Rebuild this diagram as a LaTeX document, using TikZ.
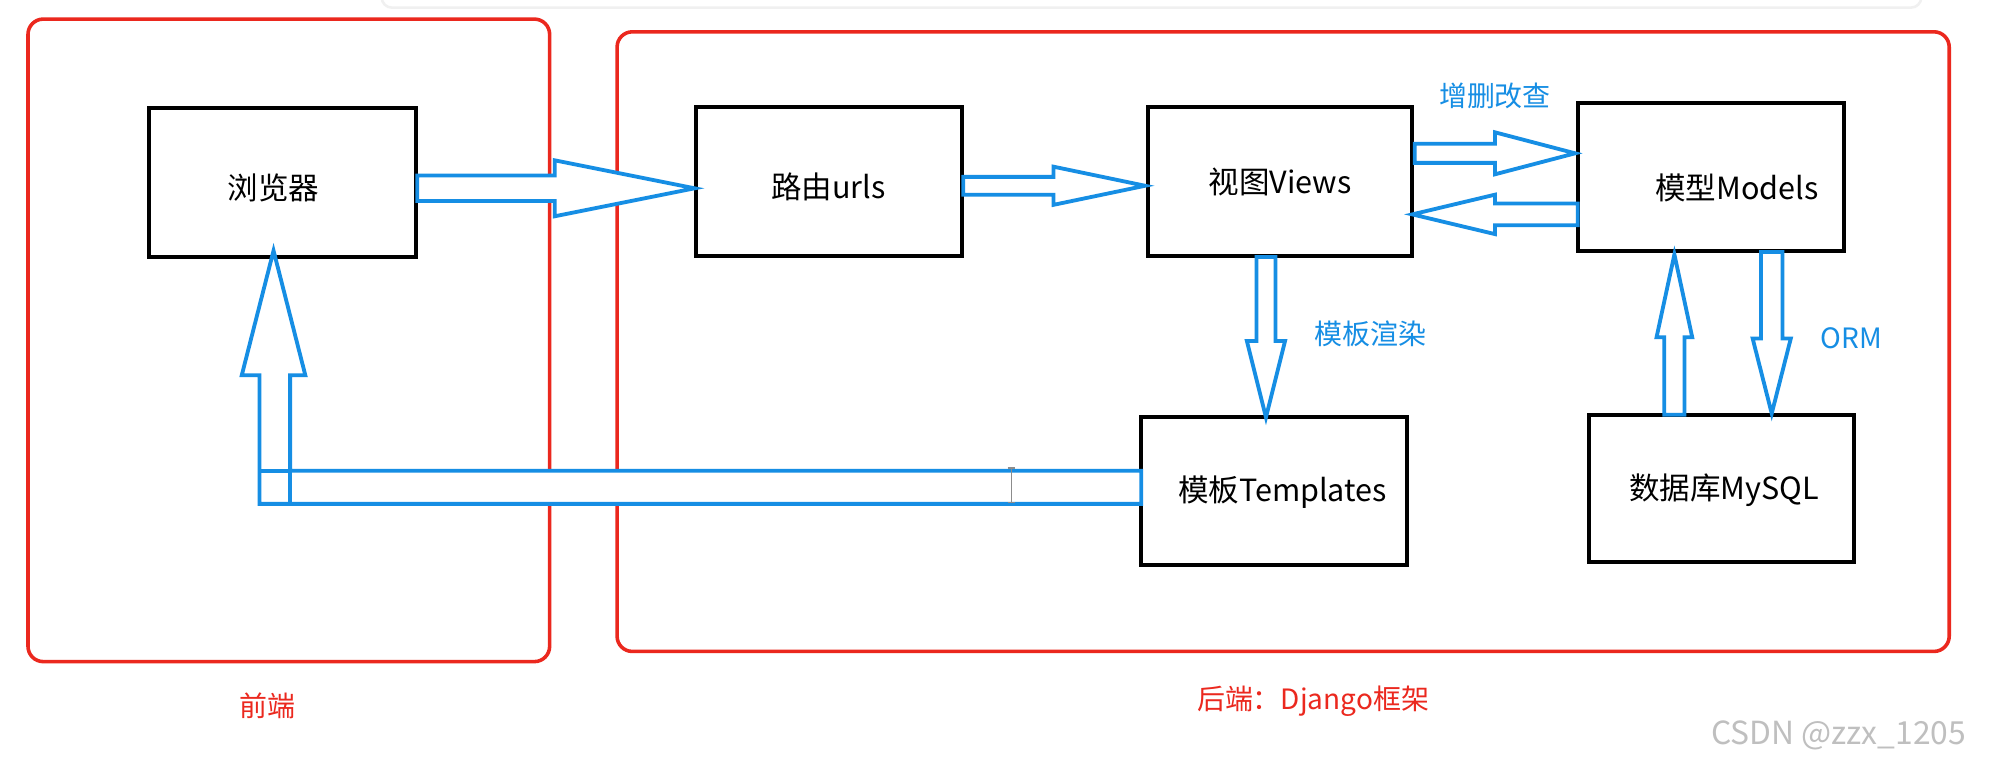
\documentclass[tikz,border=0pt]{standalone}
\usepackage{fontspec}
\setmainfont{Noto Sans CJK SC}
\definecolor{sky}{RGB}{22,142,228}
\definecolor{rd}{RGB}{235,40,30}
\begin{document}
\begin{tikzpicture}[x=0.5pt,y=-0.5pt,
  box/.style={draw=black,line width=1.6pt,inner sep=0pt},
  frame/.style={draw=rd,line width=1.4pt,rounded corners=6pt},
  barrow/.style={draw=sky,line width=1.5pt,line join=miter,fill=white},
  lbl/.style={font=\fontsize{12}{14}\selectfont},
  blbl/.style={font=\fontsize{11}{13}\selectfont,text=sky},
  rlbl/.style={font=\fontsize{11}{13}\selectfont,text=rd}]
\useasboundingbox (0,0) rectangle (1568,605);
\fill[white] (0,0) rectangle (1568,605);
\draw[black!6,line width=1pt,rounded corners=4pt] (300,-5) -- (300,6) -- (1510,6) -- (1510,-5);
\newcommand\harr[6]{\draw[barrow] (#1,#4-#5)--(#3,#4-#5)--(#3,#4-#6)--(#2,#4)--(#3,#4+#6)--(#3,#4+#5)--(#1,#4+#5)--cycle;}
\newcommand\varr[6]{\draw[barrow] (#4-#5,#1)--(#4-#5,#3)--(#4-#6,#3)--(#4,#2)--(#4+#6,#3)--(#4+#5,#3)--(#4+#5,#1)--cycle;}
% frames
\node[frame,minimum width=205pt,minimum height=252.5pt] (fe) at (227,267.5) {};
\node[frame,minimum width=523.5pt,minimum height=243.5pt] (be) at (1008.5,268.5) {};
% boxes
\node[box,minimum width=105pt,minimum height=58.5pt] (br) at (222,143.5) {};
\node[lbl] at (215,148) {浏览器};
\node[box,minimum width=104.5pt,minimum height=58.5pt] (ur) at (651.5,142.5) {};
\node[lbl] at (651,147) {路由urls};
\node[box,minimum width=104pt,minimum height=58.5pt] (vi) at (1006,142.5) {};
\node[lbl] at (1006,143) {视图Views};
\node[box,minimum width=104.5pt,minimum height=58pt] (mo) at (1344.5,139) {};
\node[lbl] at (1365,148) {模型Models};
\node[box,minimum width=104.5pt,minimum height=58pt] (te) at (1001.5,386) {};
\node[lbl] at (1008,387) {模板Templates};
\node[box,minimum width=104pt,minimum height=58pt] (db) at (1353,384) {};
\node[lbl] at (1355,385) {数据库MySQL};
% arrows
\harr{328}{546}{436}{148}{10}{22}
\harr{757}{900}{828}{146}{7}{15}
\harr{1112}{1238}{1175}{120.5}{7.5}{16.5}
\harr{1240}{1110}{1175}{168.5}{8.5}{15.5}
\varr{202}{328}{268}{995}{7.5}{15}
\varr{326}{200}{265}{1316}{8}{14}
\varr{198}{325}{266}{1392.5}{8.5}{15}
\draw[barrow] (897,370)--(228,370)--(228,295)--(240,295)--(215,197)--(190,295)--(204,295)--(204,396)--(897,396)--cycle;
\draw[sky,line width=1.5pt] (204,370)--(228,370)--(228,396);
\draw[black!45,line width=0.6pt] (795,368)--(795,395) (792,368)--(798,368) (792,395)--(798,395);
% labels
\node[blbl] (l1) at (1175,75) {增删改查};
\node[blbl] (l2) at (1077,262) {模板渲染};
\node[blbl] (l3) at (1455,266) {ORM};
\node[rlbl] (l4) at (210,555) {前端};
\node[rlbl] (l5) at (1032,551) {后端：Django框架};
\node[font=\fontsize{12.5}{14}\selectfont,text=black!25] (wm) at (1445,578) {CSDN @zzx\_1205};
\end{tikzpicture}
\end{document}
